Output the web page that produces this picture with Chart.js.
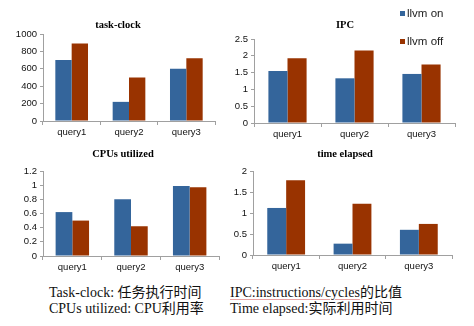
<!DOCTYPE html>
<html>
<head>
<meta charset="utf-8">
<script src="https://cdn.jsdelivr.net/npm/chart.js@4"></script>
<style>
	body { margin: 0; background: #fff; }
	#page { position: relative; width: 474px; height: 326px; overflow: hidden; background: #fff; }
	canvas { position: absolute; }
	.title { position: absolute; font: bold 10.5px "Liberation Serif", serif; color: #000; transform: translate(-50%, -50%); white-space: nowrap; }
	.legend { position: absolute; font: 11.5px "Liberation Sans", Arial, sans-serif; color: #222; white-space: nowrap; line-height: 14px; }
	.legend i { display: inline-block; width: 5px; height: 5px; margin-right: 2px; vertical-align: 1px; }
	.note { position: absolute; font: 14px "Liberation Serif", "Noto Sans CJK SC", serif; color: #111; white-space: nowrap; line-height: 16px; }
	.squig { text-decoration: underline; text-decoration-color: #e7a3a3; text-underline-offset: 2px; }
</style>
</head>
<body>
<div id="page">
	<canvas id="taskClock" width="237" height="140" style="left:0;top:0"></canvas>
	<canvas id="ipc" width="254" height="140" style="left:220px;top:0"></canvas>
	<canvas id="cpus" width="237" height="135" style="left:0;top:140px"></canvas>
	<canvas id="elapsed" width="254" height="135" style="left:220px;top:140px"></canvas>

	<div class="title" style="left:118px;top:24px">task-clock</div>
	<div class="title" style="left:345px;top:24px">IPC</div>
	<div class="title" style="left:123px;top:153px">CPUs utilized</div>
	<div class="title" style="left:345px;top:153px">time elapsed</div>

	<div class="legend" style="left:400px;top:6px"><i style="background:#34659b"></i>llvm on</div>
	<div class="legend" style="left:400px;top:34px"><i style="background:#993300"></i>llvm off</div>

	<div class="note" style="left:49px;top:285px">Task-clock: 任务执行时间</div>
	<div class="note" style="left:230px;top:285px"><span class="squig">IPC:instructions/cycles</span>的比值</div>
	<div class="note" style="left:49px;top:301px">CPUs utilized: CPU利用率</div>
	<div class="note" style="left:230px;top:301px">Time elapsed:实际利用时间</div>
</div>
<script>
// данные
const queries = ["query1", "query2", "query3"];
const seriesNames = ["llvm on", "llvm off"];

const taskClockOn = [700, 220, 600];
const taskClockOff = [890, 500, 720];
const ipcOn = [1.55, 1.33, 1.46];
const ipcOff = [1.93, 2.16, 1.74];
const cpusOn = [0.62, 0.8, 0.99];
const cpusOff = [0.5, 0.42, 0.97];
const elapsedOn = [1.12, 0.27, 0.6];
const elapsedOff = [1.78, 1.22, 0.74];

const colorOn = "#34659b";
const colorOff = "#993300";
const axisColor = "#a0a0a0";
const tickFont = { family: "Liberation Sans", size: 9.5 };

function makeChart(id, on, off, yMax, yStep, area) {
	const canvas = document.getElementById(id);
	const W = canvas.width;
	const H = canvas.height;
	return new Chart(canvas, {
		type: "bar",
		data: {
			labels: queries,
			datasets: [
				{ label: seriesNames[0], data: on, backgroundColor: colorOn, categoryPercentage: 0.57, barPercentage: 1 },
				{ label: seriesNames[1], data: off, backgroundColor: colorOff, categoryPercentage: 0.57, barPercentage: 1 },
			],
		},
		options: {
			responsive: false,
			animation: false,
			layout: {
				padding: { left: 0, top: area.top, right: W - area.right, bottom: 0 },
			},
			scales: {
				x: {
					grid: { drawOnChartArea: false, offset: true, tickLength: 4, color: axisColor },
					border: { color: axisColor },
					ticks: { font: tickFont, color: "#111", padding: 2 },
					afterFit: (s) => { s.height = H - area.bottom; },
				},
				y: {
					min: 0,
					max: yMax,
					grid: { drawOnChartArea: false, tickLength: 3, color: axisColor },
					border: { color: axisColor },
					ticks: {
						stepSize: yStep,
						autoSkip: false,
						font: tickFont,
						color: "#111",
						padding: 3,
						callback: (v) => String(Math.round(v * 100) / 100),
					},
					afterFit: (s) => { s.width = area.left; },
				},
			},
			plugins: {
				legend: false,
				tooltip: { enabled: false },
			},
			hover: { mode: null },
		},
	});
}

makeChart("taskClock", taskClockOn, taskClockOff, 1000, 200, { left: 43, right: 215, top: 34, bottom: 121 });
makeChart("ipc", ipcOn, ipcOff, 2.5, 0.5, { left: 34, right: 235, top: 39, bottom: 123 });
makeChart("cpus", cpusOn, cpusOff, 1.2, 0.2, { left: 43, right: 219, top: 31, bottom: 116 });
makeChart("elapsed", elapsedOn, elapsedOff, 2, 0.5, { left: 33, right: 232, top: 31, bottom: 115 });
</script>
</body>
</html>
